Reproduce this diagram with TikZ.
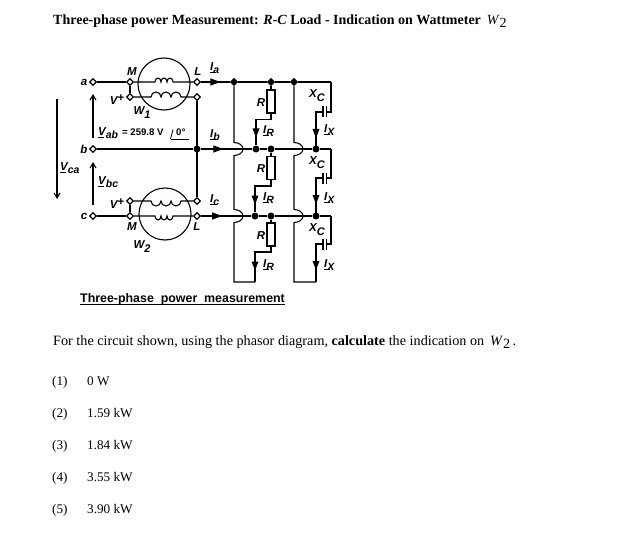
\documentclass[tikz,border=0pt]{standalone}
\usepackage{fontspec}
\setmainfont{Liberation Serif}
\setsansfont{Liberation Sans}
\usetikzlibrary{arrows.meta,decorations.markings,shapes.geometric}
\newcommand{\lab}[2]{{\textit{#1}\raisebox{-4pt}{\fontsize{11}{12}\selectfont\textit{#2}}}}
\newcommand{\ulab}[2]{{\rlap{\rule[-2.5pt]{5.5pt}{1pt}}\textit{#1}\raisebox{-3pt}{\fontsize{10.5}{11}\selectfont\textit{#2}}}}
\tikzset{
 x=1pt,y=-1pt,
 wire/.style={line width=1.1pt,black},
 term/.style={diamond,draw=black,fill=white,line width=1.1pt,inner sep=0pt,minimum size=7pt},
 junc/.style={circle,fill=black,inner sep=0pt,minimum size=7pt},
 jund/.style={diamond,fill=black,inner sep=0pt,minimum size=8.5pt},
 sl/.style={font=\sffamily\bfseries\itshape\fontsize{11.5}{12}\selectfont,inner sep=0pt},
 valtext/.style={font=\sffamily\bfseries\fontsize{9.6}{11}\selectfont,inner sep=0pt,anchor=west},
 res/.style={draw=black,fill=white,line width=1.1pt,minimum width=8pt,minimum height=23pt,inner sep=0pt},
 txt/.style={font=\fontsize{14.2}{15}\selectfont,inner sep=0pt,anchor=base west},
 opt/.style={font=\fontsize{13.2}{15}\selectfont,inner sep=0pt,anchor=base west},
 vol/.style={line width=1.1pt,-{Straight Barb[length=5pt,width=6pt]}},
 cur/.style={postaction={decorate},decoration={markings,mark=at position #1 with {\arrow{Triangle[length=10pt,width=7pt]}}}},
}
\begin{document}
\begin{tikzpicture}
\useasboundingbox (0,0) rectangle (642,559);
\fill[white] (0,0) rectangle (642,559);
% title
\node[txt,font=\bfseries\fontsize{14}{15}\selectfont] at (53,25) {Three-phase power Measurement: \textit{R-C} Load - Indication on Wattmeter\hspace{6pt}\textmd{\textit{W}}\raisebox{-3pt}{\textmd{2}}};
% terminals
\node[term] (a) at (93,82) {};
\node[term] (b) at (93,149) {};
\node[term] (c) at (93,216) {};
\node[term] (m1) at (130,82) {};
\node[term] (v1) at (130,97) {};
\node[term] (l1) at (197,82) {};
\node[term] (p1) at (197,97) {};
\node[term] (m2) at (130,216) {};
\node[term] (v2) at (130,201) {};
\node[term] (l2) at (197,216) {};
\node[term] (p2) at (197,201) {};
% wattmeter circles
\node[circle,draw,line width=1.1pt,minimum size=52pt,inner sep=0pt] (w1) at (164,84) {};
\node[circle,draw,line width=1.1pt,minimum size=52pt,inner sep=0pt] (w2) at (165,214) {};
% wires and coils
\draw[wire] (m1) -- (a);
\draw[wire] (m1) -- (155,82) arc (180:360:3 and 4) arc (180:360:3 and 4) arc (180:360:3 and 4) -- (l1);
\draw[wire] (v1) -- (151,97) arc (180:360:5 and 5) arc (180:360:5 and 5) arc (180:360:5 and 5) -- (p1);
\draw[wire] (m1) -- (v1);
\draw[wire] (m2) -- (c);
\draw[wire] (m2) -- (155,216) arc (180:0:3 and 4) arc (180:0:3 and 4) arc (180:0:3 and 4) -- (l2);
\draw[wire] (v2) -- (151,201) arc (180:0:5 and 5) arc (180:0:5 and 5) arc (180:0:5 and 5) -- (p2);
\draw[wire] (m2) -- (v2);
\draw[wire] (p1) -- (p2);
\node[junc] (jb) at (197,149) {};
\draw[wire] (b) -- (jb);
% line nodes
\coordinate (ra) at (331,82);
\coordinate (rb) at (331,149);
\coordinate (rc) at (331,216);
\node[jund] (a1) at (234,82) {};
\node[jund] (a2) at (271,82) {};
\node[jund] (a3) at (294,82) {};
\node[junc] (b1) at (256,149) {};
\node[junc] (b2) at (271,149) {};
\node[junc] (b3) at (316,149) {};
\node[junc] (c1) at (255,216) {};
\node[junc] (c2) at (271,216) {};
\node[junc] (c3) at (316,216) {};
\draw[wire,cur=0.68] (l1) -- (a1);
\draw[wire] (a1) -- (a2) -- (a3) -- (ra);
\draw[wire] (b3) -- (rb);
\draw[wire] (c3) -- (rc);
\draw[wire,cur=0.68] (jb) -- (234,149);
\draw[wire] (234,149) -- (b1) -- (b2) -- (b3);
\draw[wire,cur=0.64] (l2) -- (234,216);
\draw[wire] (234,216) -- (c1) -- (c2) -- (c3);
% crossing buses
\draw[wire] (a1) -- (234,142.5) arc (-90:90:9 and 6.5) -- (234,209.5) arc (-90:90:9 and 6.5) -- (234,282) -- (255,282) coordinate (bl);
\draw[wire] (a3) -- (294,142.5) arc (-90:90:9 and 6.5) -- (294,209.5) arc (-90:90:9 and 6.5) -- (294,282) -- (316,282) coordinate (br);
% resistors
\node[res] (r1) at (271,101.5) {};
\node[res] (r2) at (271,168) {};
\node[res] (r3) at (271,234.5) {};
\draw[wire] (a2) -- (r1);
\draw[wire] (b2) -- (r2);
\draw[wire] (c2) -- (r3);
\draw[wire] (r1.south) -- (271,119.5) -- (256,119.5) -- (b1);
\draw[wire] (r2.south) -- (271,186) -- (255,186) -- (c1);
\draw[wire] (r3.south) -- (271,252) -- (255,252) -- (bl);
\foreach \xx/\yy in {256/137.5,255/204.5,255/270.5}{
  \fill (\xx,\yy) -- ++(-3.5,-9) -- ++(7,0) -- cycle;
}
% capacitors
\foreach \ya/\ytop/\ye in {112/82/149, 178/149/216, 244/216/282}{
  \draw[wire] (331,\ytop) -- (331,\ya) -- (326.5,\ya);
  \draw[wire] (326.5,\ya-5.5) -- (326.5,\ya+5.5);
  \draw[wire] (323,\ya-5.5) -- (323,\ya+5.5);
  \draw[wire] (323,\ya) -- (316,\ya) -- (316,\ye);
  \fill (316,\ya+26) -- ++(-3.5,-9) -- ++(7,0) -- cycle;
}
% voltage arrows
\draw[vol] (93,138) -- (93,94);
\draw[vol] (93,205) -- (93,162);
\draw[vol] (57,99) -- (57,199);
% labels
\node[sl] at (84,82) {a};
\node[sl] at (84,149) {b};
\node[sl] at (84,216) {c};
\node[sl] at (132,72) {M};
\node[sl] at (198,72) {L};
\node[sl] at (132,227) {M};
\node[sl] at (197,227) {L};
\node[sl] at (117,100) {V\raisebox{3pt}{+}};
\node[sl] at (117,204) {V\raisebox{3pt}{+}};
\node[sl] at (142,113) {\lab{W}{1}};
\node[sl] at (142,247) {\lab{W}{2}};
\node[sl,anchor=west] at (98,133) {\ulab{V}{ab}};
\node[valtext] at (122,132) {= 259.8 V};
\draw[line width=0.8pt] (170.5,139) -- (173,129.5);
\draw[line width=0.8pt] (170.5,139) -- (188.5,139);
\node[valtext] at (176,132) {0°};
\node[sl,anchor=west] at (98,182) {\ulab{V}{bc}};
\node[sl,anchor=west] at (60,168) {\ulab{V}{ca}};
\node[sl,anchor=west] at (210,68) {\ulab{I}{a}};
\node[sl,anchor=west] at (210,135) {\ulab{I}{b}};
\node[sl,anchor=west] at (210,200) {\ulab{I}{c}};
\node[sl] at (261,103) {R};
\node[sl] at (261,169) {R};
\node[sl] at (261,236) {R};
\node[sl,anchor=west] at (263,131) {\ulab{I}{R}};
\node[sl,anchor=west] at (263,198) {\ulab{I}{R}};
\node[sl,anchor=west] at (263,265) {\ulab{I}{R}};
\node[sl,anchor=west] at (324,130) {\ulab{I}{X}};
\node[sl,anchor=west] at (324,198) {\ulab{I}{X}};
\node[sl,anchor=west] at (324,265) {\ulab{I}{X}};
\node[sl] at (317,96) {\lab{X}{C}};
\node[sl] at (317,163) {\lab{X}{C}};
\node[sl] at (317,230) {\lab{X}{C}};
% caption
\node[anchor=base west,inner sep=0pt,font=\sffamily\bfseries\fontsize{12.4}{13}\selectfont] (cap) at (80,302) {Three-phase\ \ power\ \ measurement};
\draw[line width=0.9pt] (80,304) -- (285,304);
% body
\node[txt] at (53,345) {For the circuit shown, using the phasor diagram, \textbf{calculate} the indication on\hspace{6pt}\textit{W}\raisebox{-3pt}{2}\,.};
\node[opt] at (52,385) {(1)};\node[opt] at (87,385) {0 W};
\node[opt] at (52,417) {(2)};\node[opt] at (87,417) {1.59 kW};
\node[opt] at (52,449) {(3)};\node[opt] at (87,449) {1.84 kW};
\node[opt] at (52,481) {(4)};\node[opt] at (87,481) {3.55 kW};
\node[opt] at (52,513) {(5)};\node[opt] at (87,513) {3.90 kW};
\end{tikzpicture}
\end{document}
